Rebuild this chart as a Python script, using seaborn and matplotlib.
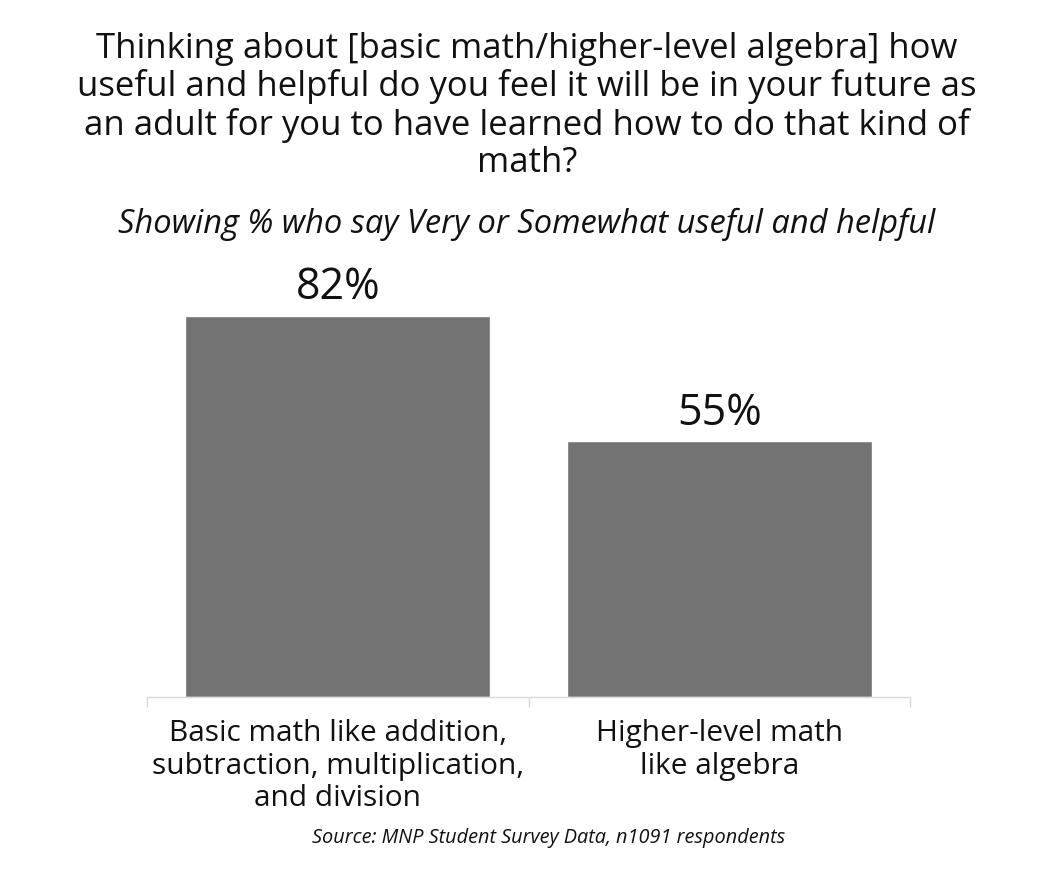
import matplotlib
matplotlib.use('Agg')
import matplotlib.pyplot as plt
import seaborn as sns

categories = ['Basic math like addition,\nsubtraction, multiplication,\nand division',
              'Higher-level math\nlike algebra']
values = [82, 55]
value_labels = ['82%', '55%']

title = ('Thinking about [basic math/higher-level algebra] how\n'
         'useful and helpful do you feel it will be in your future as\n'
         'an adult for you to have learned how to do that kind of\n'
         'math?')
subtitle = 'Showing % who say Very or Somewhat useful and helpful'
source = 'Source: MNP Student Survey Data, n1091 respondents'

sns.set_style('white')
plt.rcParams['font.family'] = ['Open Sans', 'DejaVu Sans']

W, H = 1054, 878
fig = plt.figure(figsize=(W / 100, H / 100), dpi=100)
ax = fig.add_axes([147 / W, 1 - 698 / H, (910 - 147) / W, (698 - 270) / H])

sns.barplot(x=categories, y=values, color='#737373', saturation=1, width=0.8, ax=ax)
ax.bar_label(ax.containers[0], labels=value_labels, padding=5, fontsize=31, color='#111111')

ax.set_xlim(-0.5, 1.5)
ax.set_ylim(0, (698 - 270) / ((698 - 317) / 82))
ax.set_yticks([])
ax.set_xlabel('')
ax.set_ylabel('')
for side in ['top', 'right', 'left']:
    ax.spines[side].set_visible(False)
ax.spines['bottom'].set_color('#d9d9d9')
ax.spines['bottom'].set_linewidth(1)
ax.set_xticks([-0.5, 0.5, 1.5], minor=True)
ax.tick_params(axis='x', which='minor', bottom=True, length=7, width=1,
               color='#d9d9d9', direction='out')
ax.tick_params(axis='x', which='major', length=0, pad=15, labelsize=21.5, labelcolor='#111111')
for lbl in ax.get_xticklabels():
    lbl.set_linespacing(1.17)

fig.text(0.5, 1 - 106 / H, title, ha='center', va='center', fontsize=25,
         color='#111111', linespacing=1.13)
fig.text(0.5, 1 - 224 / H, subtitle, ha='center', va='center', fontsize=23.5,
         style='italic', color='#111111')
fig.text(549 / W, 1 - 838 / H, source, ha='center', va='center', fontsize=14.3,
         style='italic', color='#111111')

fig.savefig('out.png', dpi=100, facecolor='white')
